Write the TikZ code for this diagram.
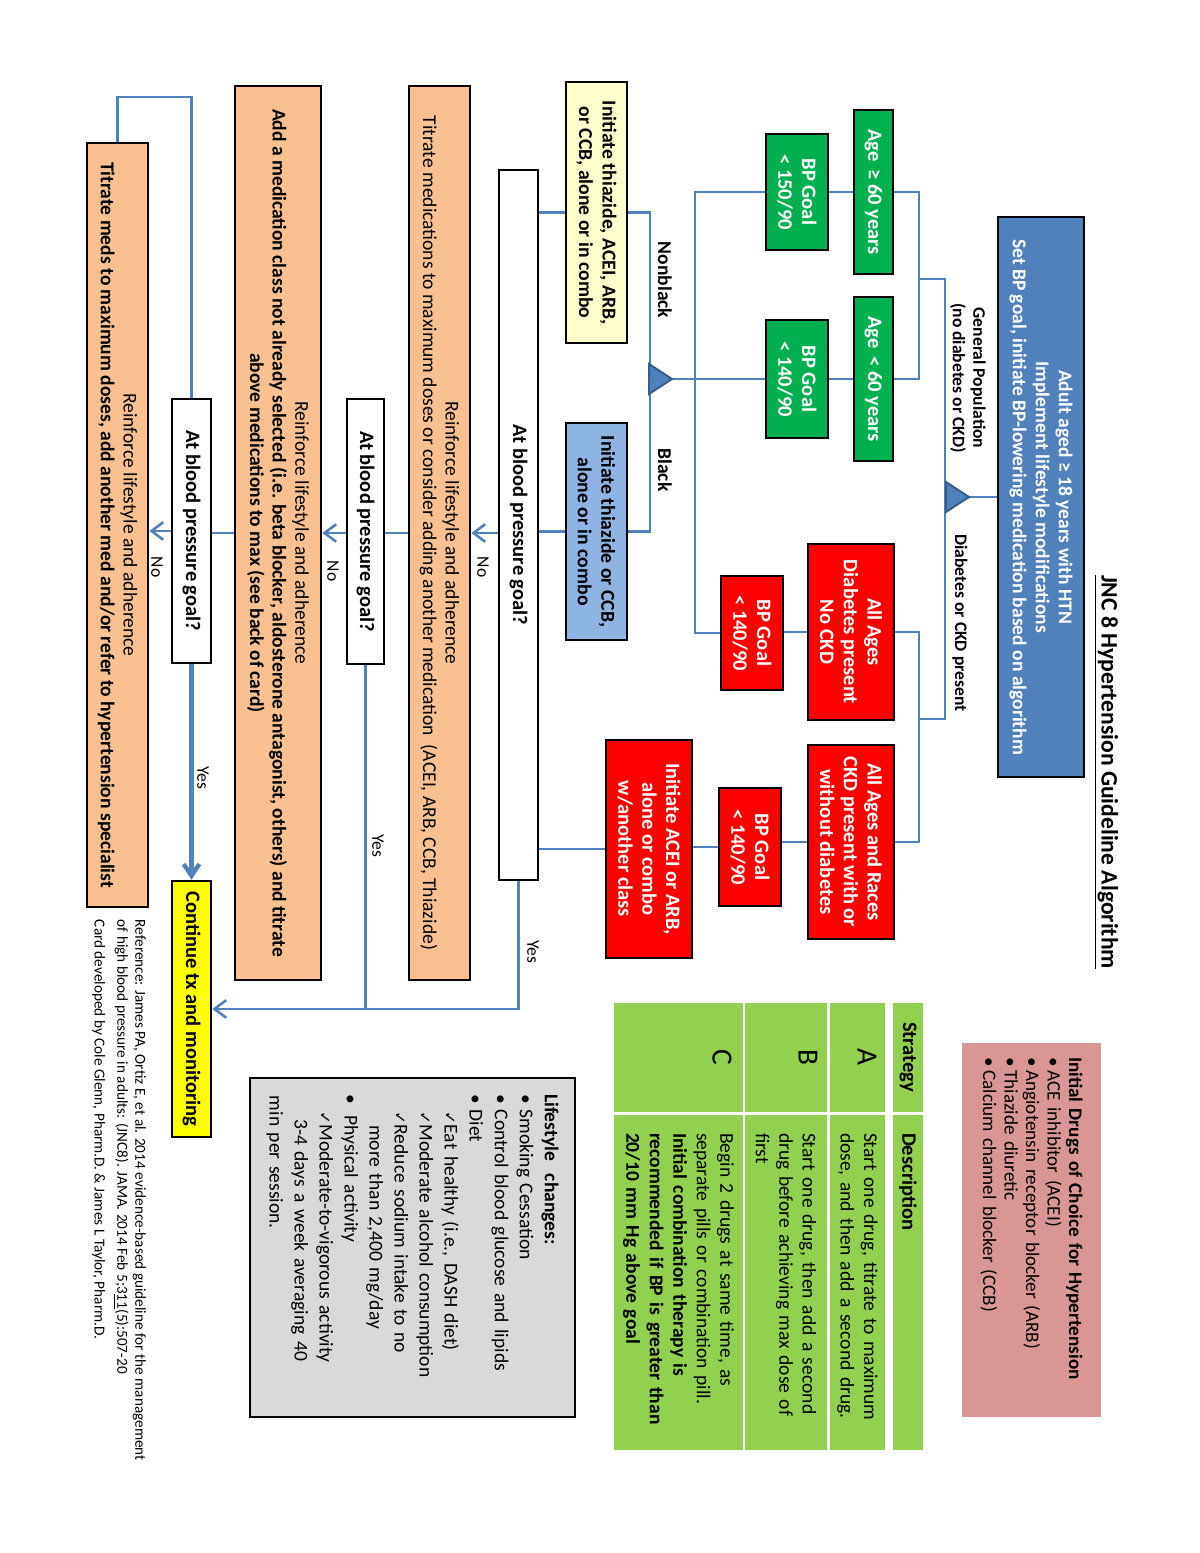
\documentclass[tikz,border=0pt]{standalone}
\usepackage{fontspec}
\setmainfont{Carlito}
\newfontfamily\djv{DejaVu Sans}
\usetikzlibrary{arrows.meta}
\newdimen\pxu \pxu=0.01799cm
\newcommand\myfb{\fontsize{10.5}{12.2}\selectfont\bfseries}
\newcommand\myfr{\fontsize{10}{11.6}\selectfont}
\newcommand\chk{{\djv\fontsize{8}{8}\selectfont ✓}}
\definecolor{cblue}{HTML}{4F81BD}
\definecolor{cgreen}{HTML}{00B050}
\definecolor{cred}{HTML}{FF0000}
\definecolor{cyel}{HTML}{FFFFCC}
\definecolor{clblue}{HTML}{8DB4E2}
\definecolor{corange}{HTML}{FAC090}
\definecolor{cyellow}{HTML}{FFFF00}
\definecolor{cpink}{HTML}{D99694}
\definecolor{ctab}{HTML}{92D050}
\definecolor{cgray}{HTML}{D9D9D9}
\definecolor{ctri}{HTML}{385D8A}
\newcommand\boxat[7]{\node[bx,#6,minimum width={(#5-#4)*\pxu},minimum height={(#3-#2)*\pxu}] (#1) at ({(#2+#3)/2},{(#4+#5)/2}) {#7};}
\newcommand\cellat[7]{\node[cellst,#6,minimum width={(#5-#4)*\pxu},minimum height={(#3-#2)*\pxu}] (#1) at ({(#2+#3)/2},{(#4+#5)/2}) {#7};}
\begin{document}
\begin{tikzpicture}[x=0.01799cm,y=-0.01799cm,
  bx/.style={draw=black,line width=1.4pt,rotate=-90,align=center,inner sep=1pt,font=\myfb},
  cellst/.style={fill=ctab,rotate=-90,inner sep=0pt,font=\fontsize{10}{12}\selectfont},
  conn/.style={draw=cblue,line width=1.3pt},
  arr/.style={conn,-{Straight Barb[length=6pt,width=9pt]}},
  bigarr/.style={draw=cblue,line width=2.2pt,-{Straight Barb[length=6pt,width=8pt]}},
  tri/.style={fill=cblue,draw=ctri,line width=1pt},
  lbl/.style={rotate=-90,align=center,font=\fontsize{9}{10.5}\selectfont\bfseries},
  lblb/.style={rotate=-90,font=\fontsize{10}{12}\selectfont\bfseries},
  yn/.style={rotate=-90,font=\fontsize{9}{10}\selectfont}]
\useasboundingbox (0,0) rectangle (1200,1553);
\fill[white] (0,0) rectangle (1200,1553);

% title
\node[rotate=-90,font=\fontsize{12.1}{15}\selectfont\bfseries] (title) at (1106,772) {\underline{JNC 8 Hypertension Guideline Algorithm}};

% boxes
\boxat{blue}{998}{1084}{217}{777}{fill=cblue,text=white,font=\fontsize{10}{11.8}\selectfont\bfseries}{Adult aged ≥ 18 years with HTN\\Implement lifestyle modifications\\Set BP goal, initiate BP-lowering medication based on algorithm}
\boxat{ageA}{854}{893}{110}{274}{fill=cgreen,text=white}{Age \,≥ 60 years}
\boxat{ageB}{854}{893}{297}{461}{fill=cgreen,text=white}{Age \,< 60 years}
\boxat{bpA}{766}{828}{134}{250}{fill=cgreen,text=white}{BP Goal\\< 150/90}
\boxat{bpB}{766}{828}{320}{438}{fill=cgreen,text=white}{BP Goal\\< 140/90}
\boxat{diab}{808}{894}{544}{720}{fill=cred,text=white}{All Ages\\Diabetes present\\No CKD}
\boxat{bpC}{721}{783}{576}{690}{fill=cred,text=white}{BP Goal\\< 140/90}
\boxat{ckd}{808}{894}{745}{939}{fill=cred,text=white}{All Ages and Races\\CKD present with or\\without diabetes}
\boxat{bpD}{719}{781}{788}{906}{fill=cred,text=white}{BP Goal\\< 140/90}
\boxat{acei}{606}{692}{740}{958}{fill=cred,text=white}{Initiate ACEI or ARB,\\alone or combo\\w/another class}
\boxat{yel}{566}{627}{82}{343}{fill=cyel,font=\fontsize{10.1}{12}\selectfont\bfseries}{Initiate thiazide, ACEI, ARB,\\or CCB, alone or in combo}
\boxat{lbl}{566}{627}{423}{640}{fill=clblue,font=\fontsize{10.1}{12}\selectfont\bfseries}{Initiate thiazide or CCB,\\alone or in combo}
\boxat{goalA}{499}{538}{170}{880}{fill=white}{At blood pressure goal?}
\boxat{orA}{409}{470}{86}{980}{fill=corange,font=\myfr}{Reinforce lifestyle and adherence\\Titrate medications to maximum doses or consider adding another medication\ \ (ACEI, ARB, CCB, Thiazide)}
\boxat{goalB}{347}{384}{399}{664}{fill=white}{At blood pressure goal?}
\boxat{orB}{235}{321}{86}{980}{fill=corange,font=\myfr}{Reinforce lifestyle and adherence\\\textbf{Add a medication class not already selected (i.e. beta blocker, aldosterone antagonist, others) and titrate}\\\textbf{above medications to max (see back of card)}}
\boxat{goalC}{172}{211}{399}{663}{fill=white}{At blood pressure goal?}
\boxat{orC}{87}{148}{143}{907}{fill=corange,font=\myfr}{Reinforce lifestyle and adherence\\\textbf{Titrate meds to maximum doses, add another med and/or refer to hypertension specialist}}
\boxat{cont}{172}{211}{881}{1137}{fill=cyellow}{Continue tx and monitoring}

% labels
\node[lbl] (lGen) at (968,378) {General Population\\(no diabetes or CKD)};
\node[lbl] (lDia) at (960,623) {Diabetes or CKD present};
\node[lblb] (lNon) at (665,280) {Nonblack};
\node[lblb] (lBla) at (665,470) {Black};

% connectors
\coordinate (t1) at (946,497);
\coordinate (jA) at (919,279);
\coordinate (jB) at (919,719);
\coordinate (vx) at (695,0);
\coordinate (t2) at (650,379);
\coordinate (t2tip) at (672,379);
\coordinate (lp) at (150,97);
\draw[conn] (blue.south) -- (t1);
\draw[conn] (jA) -- (945,279) -- (945,719) -- (jB);
\draw[conn] (ageA.north) -| (jA) |- (ageB.north);
\draw[conn] (diab.north) -| (jB) |- (ckd.north);
\draw[conn] (ageA.south) -- (ageA.south -| bpA.north);
\draw[conn] (ageB.south) -- (ageB.south -| bpB.north);
\draw[conn] (diab.south) -- (diab.south -| bpC.north);
\draw[conn] (ckd.south) -- (ckd.south -| bpD.north);
\draw[conn] (bpD.south) -- (bpD.south -| acei.north);
\draw[conn] (bpA.south) -- (bpA.south -| vx) |- (bpC.south);
\draw[conn] (bpB.south) -- (t2tip);
\draw[conn] (yel.north) -| (t2) |- (lbl.north);
\draw[conn] (yel.south) -- (yel.south -| goalA.north);
\draw[conn] (lbl.south) -- (lbl.south -| goalA.north);
\draw[conn] (acei.south) -- (acei.south -| goalA.north);
\draw[arr] (goalA.south |- orA.north) -- (orA.north);
\draw[conn] (orA.south) -- (orA.south -| goalB.north);
\draw[arr] (goalB.south |- orB.north) -- (orB.north);
\draw[conn] (orB.south) -- (orB.south -| goalC.north);
\draw[arr] (goalC.south) -- (goalC.south -| orC.north);
\draw[conn] (goalC.west) |- (lp) -| (orC.west);
\draw[bigarr] (goalC.east) -- (cont.west);
\draw[arr] (goalA.east) |- (cont.north);
\draw[conn] (goalB.east) -- (goalB.east |- cont.north);

% triangles
\filldraw[tri] (946,482) -- (969,497) -- (946,512) -- cycle;
\filldraw[tri] (649,364) -- (672,379) -- (649,394) -- cycle;

% yes / no
\node[yn] (n1) at (483,567) {No};
\node[yn] (n2) at (333,571) {No};
\node[yn] (n3) at (157,567) {No};
\node[yn] (y1) at (533,952) {Yes};
\node[yn] (y2) at (378,846) {Yes};
\node[yn] (y3) at (203,778) {Yes};

% reference
\node[rotate=-90,anchor=west,align=left,font=\fontsize{7.8}{9.2}\selectfont] (ref) at (119,913) {Reference: James PA, Ortiz E, et al. 2014 evidence-based guideline for the management\\of high blood pressure in adults: (JNC8). JAMA. 2014 Feb 5;3\underline{11}(5):507-20\\[2.5pt]Card developed by Cole Glenn, Pharm.D. \& James L Taylor, Pharm.D.};

% initial drugs
\node[fill=cpink,rotate=-90,minimum width=374*\pxu,minimum height=139*\pxu,text width=346*\pxu,align=left,inner sep=0pt,font=\fontsize{9.8}{11}\selectfont] (drugs) at (1031.5,1230) {\textbf{Initial Drugs of Choice for Hypertension}\\•\hspace{2pt}ACE inhibitor (ACEI)\\•\hspace{2pt}Angiotensin receptor blocker (ARB)\\•\hspace{2pt}Thiazide diuretic\\•\hspace{2pt}Calcium channel blocker (CCB)};

% strategy table
\cellat{h1}{893}{923}{1003}{1112}{text width=71*\pxu,align=left,font=\fontsize{10.5}{12}\selectfont\bfseries}{Strategy}
\cellat{h2}{893}{923}{1115}{1450}{text width=299*\pxu,align=left,font=\fontsize{10.5}{12}\selectfont\bfseries}{Description}
\cellat{a1}{830}{885}{1003}{1112}{}{}
\cellat{a2}{830}{885}{1115}{1450}{text width=299*\pxu,align=left}{Start one drug, titrate to maximum\\dose, and then add a second drug.}
\cellat{b1}{745}{827}{1003}{1112}{}{}
\cellat{b2}{745}{827}{1115}{1450}{text width=299*\pxu,align=left}{Start one drug, then add a second\\drug before achieving max dose of\\first}
\cellat{c1}{614}{743}{1003}{1112}{}{}
\cellat{c2}{614}{743}{1115}{1450}{text width=299*\pxu,align=left}{Begin 2 drugs at same time, as\\separate pills or combination pill.\\\textbf{Initial combination therapy is}\\\textbf{recommended if BP is greater than}\\\textbf{20/10 mm Hg above goal}}
\node[rotate=-90,font=\fontsize{15}{16}\selectfont] (la) at (867,1057) {A};
\node[rotate=-90,font=\fontsize{15}{16}\selectfont] (lb) at (808,1057) {B};
\node[rotate=-90,font=\fontsize{15}{16}\selectfont] (lc) at (722,1057) {C};

% lifestyle
\node[draw=black,line width=1.4pt,fill=cgray,rotate=-90,minimum width=339*\pxu,minimum height=325*\pxu,text width=307*\pxu,align=left,inner sep=0pt,font=\fontsize{10}{12.8}\selectfont] (life) at (412.5,1247.5) {\textbf{Lifestyle\ \ changes:}\\
•\hspace{3pt}Smoking Cessation\\
•\hspace{3pt}Control blood glucose and lipids\\
•\hspace{3pt}Diet\\
\hspace{9pt}\chk Eat healthy (i.e., DASH diet)\\
\hspace{9pt}\chk Moderate alcohol consumption\\
\hspace{9pt}\chk Reduce sodium intake to no\\
\hspace{16pt}more than 2,400 mg/day\\
•\hspace{6pt}Physical activity\\
\hspace{9pt}\chk Moderate-to-vigorous activity\\
\hspace{13pt}3-4 days a week averaging 40\\
\hspace{1pt}min per session.};
\end{tikzpicture}
\end{document}
